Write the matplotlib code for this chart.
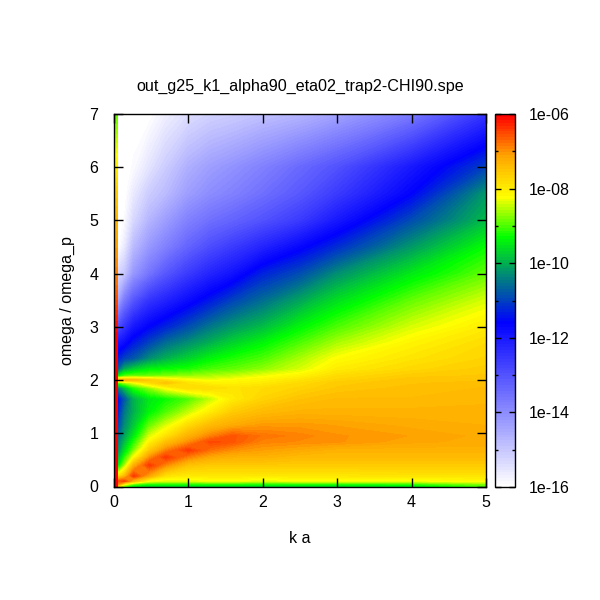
import numpy as np
import matplotlib
matplotlib.use("Agg")
import matplotlib.pyplot as plt
from matplotlib.colors import LinearSegmentedColormap, Normalize
from matplotlib.cm import ScalarMappable

plt.rcParams['font.family'] = ['Liberation Sans', 'DejaVu Sans']

title = "out_g25_k1_alpha90_eta02_trap2-CHI90.spe"
xlabel = "k a"
ylabel = "omega / omega_p"
cb_ticks = [-16, -14, -12, -10, -8, -6]
cb_labels = ["1e-16", "1e-14", "1e-12", "1e-10", "1e-08", "1e-06"]

# Narrow column at the left edge: log10(power)
strip_k = [0.0, 0.06]
strip_w = [0, 0.1, 1, 2, 2.8, 3.2, 3.8, 4.5, 5.5, 6.2, 7]
strip_v = [-6.0, -6.0, -6.0, -6.0, -6.0, -6.3, -6.8, -7.1, -7.6, -8.2, -8.9]

# Main spectrum: log10(power)
k_vals = [0.06, 0.15, 0.27, 0.48, 0.7, 1, 1.3, 1.6, 2, 2.5, 3, 4, 5]
w_vals = [0, .04, .1, .2, .4, .55, .68, .84, .95, 1.15, 1.4, 1.65, 1.85, 1.95, 2.0, 2.08, 2.2,
          2.4, 2.7, 3, 3.5, 4, 4.5, 5, 5.5, 6, 7]
power = [
    [-8.0, -9.0, -9.5, -9.7, -9.7, -9.7, -9.7, -9.7, -9.7, -9.7, -9.7, -9.6, -9.0],
    [-7.0, -8.3, -9.0, -9.3, -9.3, -9.3, -9.3, -9.3, -9.3, -9.3, -9.3, -9.2, -8.8],
    [-6.6, -6.5, -7.4, -8.3, -8.4, -8.4, -8.3, -8.3, -8.4, -8.3, -8.3, -8.3, -8.2],
    [-8.0, -7.4, -6.4, -7.2, -7.9, -8.0, -7.95, -7.95, -7.95, -7.95, -7.95, -7.9, -7.9],
    [-9.6, -8.6, -7.3, -6.4, -6.95, -7.5, -7.6, -7.6, -7.6, -7.6, -7.6, -7.6, -7.6],
    [-10.0, -9.2, -8.2, -7.0, -6.4, -6.9, -7.2, -7.3, -7.3, -7.4, -7.4, -7.4, -7.4],
    [-10.3, -9.6, -8.8, -7.6, -6.9, -6.4, -6.8, -7.0, -7.1, -7.2, -7.3, -7.3, -7.3],
    [-10.5, -9.9, -9.2, -8.1, -7.5, -7.0, -6.5, -6.6, -6.9, -6.95, -7.0, -7.15, -7.2],
    [-10.7, -10.1, -9.5, -8.4, -7.9, -7.3, -6.9, -6.6, -6.8, -6.9, -7.0, -7.1, -7.2],
    [-11.0, -10.3, -9.8, -8.9, -8.4, -7.8, -7.4, -7.2, -7.05, -7.05, -7.1, -7.2, -7.25],
    [-11.3, -10.5, -10.0, -9.4, -9.0, -8.5, -8.0, -7.6, -7.4, -7.3, -7.3, -7.3, -7.3],
    [-11.5, -10.8, -10.0, -9.5, -9.3, -9.0, -8.5, -8.0, -7.7, -7.5, -7.4, -7.4, -7.35],
    [-10.5, -9.9, -9.2, -8.7, -8.2, -7.8, -7.8, -7.9, -7.8, -7.7, -7.55, -7.45, -7.4],
    [-9.0, -8.6, -8.3, -7.8, -7.5, -7.9, -8.1, -8.1, -8.0, -7.8, -7.6, -7.5, -7.45],
    [-7.4, -7.3, -7.4, -7.6, -7.9, -8.2, -8.3, -8.2, -8.1, -7.9, -7.7, -7.5, -7.5],
    [-9.5, -9.0, -8.9, -8.9, -8.8, -8.7, -8.6, -8.5, -8.3, -8.1, -7.8, -7.6, -7.55],
    [-10.7, -10.0, -9.7, -9.4, -9.3, -9.2, -9.0, -8.9, -8.7, -8.4, -8.0, -7.75, -7.6],
    [-11.3, -11.0, -10.8, -10.3, -10.0, -9.7, -9.4, -9.2, -9.0, -8.6, -8.2, -7.9, -7.7],
    [-12.0, -11.8, -11.4, -11.0, -10.6, -10.3, -10.0, -9.7, -9.4, -9.0, -8.6, -8.1, -7.8],
    [-13.0, -12.5, -12.0, -11.6, -11.3, -10.9, -10.5, -10.2, -9.9, -9.4, -9.0, -8.4, -8.0],
    [-14.5, -13.7, -13.1, -12.5, -12.2, -11.8, -11.4, -11.0, -10.6, -10.1, -9.6, -8.9, -8.4],
    [-15.3, -15.0, -14.2, -13.6, -13.1, -12.6, -12.2, -11.9, -11.3, -10.9, -10.3, -9.5, -8.9],
    [-16.0, -15.6, -14.8, -14.2, -13.8, -13.3, -12.9, -12.6, -12.2, -11.7, -11.2, -10.2, -9.3],
    [-16.0, -15.9, -15.3, -14.7, -14.3, -13.8, -13.5, -13.3, -13.0, -12.6, -12.0, -10.9, -9.9],
    [-16.0, -16.0, -15.6, -15.1, -14.8, -14.3, -14.0, -13.8, -13.5, -13.1, -12.6, -11.6, -10.2],
    [-16.0, -16.0, -15.9, -15.5, -15.1, -14.6, -14.3, -14.1, -13.8, -13.4, -13.0, -12.0, -11.0],
    [-16.0, -16.0, -16.0, -16.0, -15.7, -15.4, -15.2, -15.1, -14.9, -14.7, -14.4, -13.7, -12.5],
]

cmap = LinearSegmentedColormap.from_list("spec", [
    (0.0, "#ffffff"), (0.44, "#0000ff"), (0.56, "#008080"), (0.67, "#00ff00"),
    (0.78, "#ffff00"), (0.89, "#ffa500"), (1.0, "#ff0000")], N=128)
norm = Normalize(-16, -6)
levels = np.linspace(-16, -6, 129)

W, H = 600, 600
fig = plt.figure(figsize=(6, 6), dpi=100)
rect = lambda l, t, r, b: [l / W, 1 - b / H, (r - l) / W, (b - t) / H]
ax = fig.add_axes(rect(113.5, 114, 486, 486.5))
cax = fig.add_axes(rect(495, 114, 514.5, 487))

Z = np.array(power)
ax.contourf(k_vals, w_vals, Z, levels=levels, cmap=cmap, norm=norm, antialiased=False, extend='both')
sv = np.array(strip_v)
ax.contourf(strip_k, strip_w, np.column_stack([sv, sv]), levels=levels, cmap=cmap, norm=norm,
            antialiased=False, extend='both')
ax.set_xlim(0, 5)
ax.set_ylim(0, 7)
ax.set_xticks(range(6))
ax.set_yticks(range(8))
ax.tick_params(direction='in', top=True, right=True, length=6.5, width=1, labelsize=11.5, color='black')
ax.tick_params(axis='x', pad=6)
ax.tick_params(axis='y', pad=11)
ax.set_xlabel(xlabel, fontsize=11.5, labelpad=15)
ax.set_ylabel(ylabel, fontsize=11.5, labelpad=10)
ax.set_title(title, fontsize=11.6, pad=17)
for s in ax.spines.values():
    s.set_linewidth(1.0)

cb = fig.colorbar(ScalarMappable(norm=norm, cmap=cmap), cax=cax)
cb.set_ticks(cb_ticks, labels=cb_labels)
cb.set_ticks(list(range(-15, -6, 2)), minor=True)
cax.tick_params(which='major', direction='in', length=4, width=1, left=True, right=True, labelsize=11.5, pad=10)
cax.tick_params(which='minor', direction='in', length=2.5, width=1, left=True, right=True)
cb.outline.set_linewidth(1.0)

fig.savefig("out.png", dpi=100)
